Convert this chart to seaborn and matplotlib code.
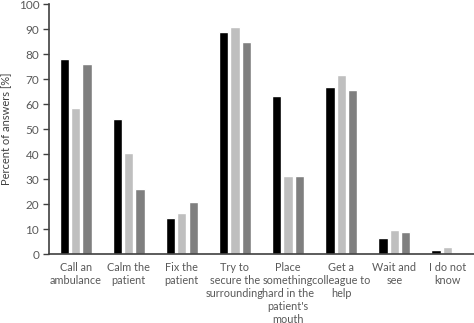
import matplotlib
matplotlib.use("Agg")
import matplotlib.pyplot as plt
import seaborn as sns
import pandas as pd

categories = ["Call an\nambulance", "Calm the\npatient", "Fix the\npatient",
              "Try to\nsecure the\nsurrounding",
              "Place\nsomething\nhard in the\npatient's\nmouth",
              "Get a\ncolleague to\nhelp", "Wait and\nsee", "I do not\nknow"]
series_names = ["Series 1", "Series 2", "Series 3"]
series1 = [77.9, 54.0, 14.3, 88.9, 63.3, 66.7, 6.3, 1.6]
series2 = [58.3, 40.6, 16.3, 90.7, 31.2, 71.6, 9.6, 2.7]
series3 = [75.9, 25.9, 20.7, 84.7, 31.2, 65.6, 8.7, 0.0]
colors = ["#000000", "#BFBFBF", "#7F7F7F"]
yticks = list(range(0, 101, 10))

rows = []
for name, vals in zip(series_names, [series1, series2, series3]):
    for c, v in zip(categories, vals):
        rows.append({"category": c, "series": name, "value": v})
df = pd.DataFrame(rows)

sns.set_theme(style="white")
plt.rcParams['font.family'] = ['Lato', 'DejaVu Sans']

fig = plt.figure(figsize=(4.74, 3.23), dpi=100)
ax = fig.add_axes([0.1034, 0.2136, 0.8966, 0.774])
sns.barplot(data=df, x="category", y="value", hue="series", palette=colors,
            order=categories, hue_order=series_names, width=0.64, gap=0.18,
            ax=ax, legend=False, saturation=1)

ax.set_ylim(0, 100)
ax.set_xlim(-0.5, len(categories) - 0.5)
ax.set_yticks(yticks)
ax.set_ylabel("Percent of answers [%]", fontsize=8, color="#404040", labelpad=5)
ax.set_xlabel("")
ax.tick_params(axis="y", direction="out", length=4, width=1, color="#404040",
               labelsize=8.5, labelcolor="#595959", pad=3, left=True)
ax.tick_params(axis="x", length=0, labelsize=7.8, labelcolor="#595959", pad=6)
for lbl in ax.get_xticklabels():
    lbl.set_linespacing(1.2)
sns.despine(ax=ax, top=True, right=True)
for s in ["left", "bottom"]:
    ax.spines[s].set_color("#404040")
    ax.spines[s].set_linewidth(1.2)

fig.savefig("out.png", dpi=100)
